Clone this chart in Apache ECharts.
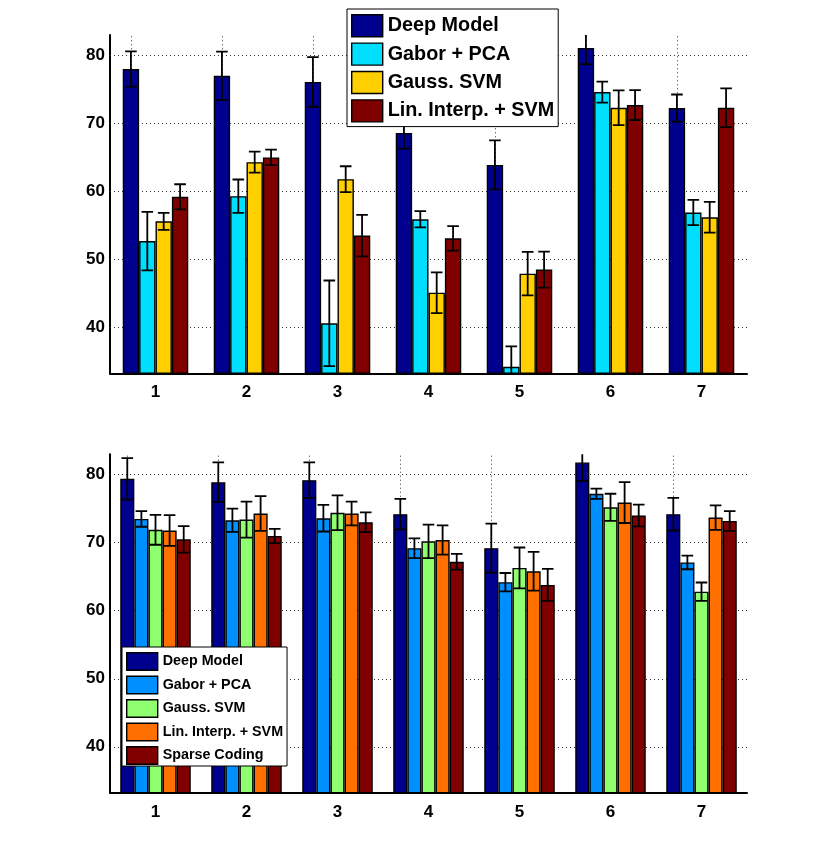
<!DOCTYPE html>
<html>
<head>
<meta charset="utf-8">
<script src="https://cdn.jsdelivr.net/npm/echarts@6/dist/echarts.min.js"></script>
<style>
html,body{margin:0;padding:0;background:#fff;}
#chart{width:828px;height:842px;}
</style>
</head>
<body>
<div id="chart"></div>
<script>
// ---- data ----
const categories = ['1', '2', '3', '4', '5', '6', '7'];
const yTicks = [40, 50, 60, 70, 80];

// top panel
const topNames = ['Deep Model', 'Gabor + PCA', 'Gauss. SVM', 'Lin. Interp. + SVM'];
const topDeep = [78.0, 77.0, 76.1, 68.6, 63.9, 81.1, 72.25];
const topDeepErr = [2.6, 3.55, 3.65, 2.3, 3.6, 2.4, 2.0];
const topGabor = [52.7, 59.3, 40.6, 55.9, 34.2, 74.6, 56.9];
const topGaborErr = [4.3, 2.45, 6.3, 1.2, 3.0, 1.55, 1.85];
const topGauss = [55.6, 64.3, 61.8, 45.1, 47.9, 72.3, 56.2];
const topGaussErr = [1.25, 1.55, 1.9, 3.0, 3.2, 2.55, 2.25];
const topLin = [59.2, 65.0, 53.5, 53.1, 48.5, 72.7, 72.3];
const topLinErr = [1.85, 1.15, 3.05, 1.8, 2.65, 2.2, 2.85];

// bottom panel
const botNames = ['Deep Model', 'Gabor + PCA', 'Gauss. SVM', 'Lin. Interp. + SVM', 'Sparse Coding'];
const botDeep = [79.4, 78.9, 79.2, 74.2, 69.2, 81.8, 74.2];
const botDeepErr = [3.05, 2.9, 2.6, 2.25, 3.6, 2.7, 2.4];
const botGabor = [73.5, 73.3, 73.6, 69.2, 64.2, 77.2, 67.1];
const botGaborErr = [1.15, 1.7, 1.95, 1.45, 1.35, 0.75, 1.0];
const botGauss = [71.9, 73.4, 74.4, 70.2, 66.3, 75.2, 62.8];
const botGaussErr = [2.2, 2.65, 2.55, 2.45, 3.0, 2.0, 1.35];
const botLin = [71.8, 74.3, 74.3, 70.4, 65.8, 75.9, 73.7];
const botLinErr = [2.25, 2.55, 1.75, 2.15, 2.85, 3.0, 1.8];
const botSparse = [70.5, 71.0, 73.0, 67.2, 63.8, 74.0, 73.2];
const botSparseErr = [1.95, 1.05, 1.45, 1.15, 2.35, 1.6, 1.45];

// ---- styles ----
const topColors = ['#00008F', '#00DFFF', '#FFCF00', '#800000'];
const botColors = ['#00008F', '#008FFF', '#8FFF70', '#FF7000', '#800000'];
const FONT = 'Liberation Sans, Arial, sans-serif';
const Y_MIN = 33.25, Y_MAX = 83.0;
const TOP_FRAC = 0.18, BOT_FRAC = 0.155;

const topVals = [topDeep, topGabor, topGauss, topLin];
const topErrs = [topDeepErr, topGaborErr, topGaussErr, topLinErr];
const botVals = [botDeep, botGabor, botGauss, botLin, botSparse];
const botErrs = [botDeepErr, botGaborErr, botGaussErr, botLinErr, botSparseErr];

const chart = echarts.init(document.getElementById('chart'), null, {renderer: 'canvas'});

function gridLines() {
  const data = [];
  yTicks.forEach(v => data.push({yAxis: v}));
  categories.forEach(c => data.push({xAxis: c}));
  return {
    silent: true, z: 1, symbol: ['none', 'none'], animation: false,
    label: {show: false},
    lineStyle: {type: [1, 3], color: '#333', width: 1},
    emphasis: {disabled: true},
    data: data
  };
}

function errRender(si, n, frac) {
  return function (params, api) {
    const c = api.value(0);
    const lo = api.coord([c, api.value(1)]);
    const hi = api.coord([c, api.value(2)]);
    const band = api.size([1, 0])[0];
    const bw = band * frac;
    const x = lo[0] + (si - (n - 1) / 2) * bw;
    const cap = 5.8;
    const style = {stroke: '#000', lineWidth: 1.8, fill: null};
    return {
      type: 'group',
      children: [
        {type: 'line', shape: {x1: x, y1: lo[1], x2: x, y2: hi[1]}, style: style},
        {type: 'line', shape: {x1: x - cap, y1: lo[1], x2: x + cap, y2: lo[1]}, style: style},
        {type: 'line', shape: {x1: x - cap, y1: hi[1], x2: x + cap, y2: hi[1]}, style: style}
      ]
    };
  };
}

const series = [];
function addPanel(names, vals, errs, colors, axisIdx, frac) {
  const n = names.length;
  names.forEach((name, i) => {
    const s = {
      type: 'bar', name: name,
      xAxisIndex: axisIdx, yAxisIndex: axisIdx,
      data: vals[i],
      barWidth: (frac * 100) + '%', barGap: '0%',
      itemStyle: {color: colors[i], borderColor: '#000', borderWidth: 1.4},
      emphasis: {disabled: true},
      animation: false, z: 2
    };
    if (i === 0) s.markLine = gridLines();
    series.push(s);
  });
  names.forEach((name, i) => {
    series.push({
      type: 'custom', name: name + ' err',
      xAxisIndex: axisIdx, yAxisIndex: axisIdx,
      clip: true, z: 3, animation: false, silent: true,
      renderItem: errRender(i, n, frac),
      data: vals[i].map((v, k) => [k, v - errs[i][k], v + errs[i][k]])
    });
  });
}
addPanel(topNames, topVals, topErrs, topColors, 0, TOP_FRAC);
addPanel(botNames, botVals, botErrs, botColors, 1, BOT_FRAC);

function xAxisDef(gi) {
  return {
    type: 'category', gridIndex: gi, data: categories,
    axisLine: {show: true, lineStyle: {color: '#000', width: 2}},
    axisTick: {show: false},
    splitLine: {show: false},
    axisLabel: {color: '#000', fontSize: 17, fontWeight: 'bold', fontFamily: FONT, margin: 11}
  };
}
function yAxisDef(gi) {
  return {
    type: 'value', gridIndex: gi, min: Y_MIN, max: Y_MAX,
    axisLine: {show: true, lineStyle: {color: '#000', width: 2}},
    axisTick: {show: false, customValues: yTicks},
    splitLine: {show: false},
    axisLabel: {color: '#000', fontSize: 17, fontWeight: 'bold', fontFamily: FONT, margin: 5, customValues: yTicks}
  };
}

function legendDef(names, colors, left, top, fs, ih, gap, pad) {
  return {
    orient: 'vertical', left: left, top: top,
    data: names.map((nm, i) => ({name: nm, icon: 'rect', itemStyle: {color: colors[i], borderColor: '#000', borderWidth: 1.4}})),
    itemWidth: 31, itemHeight: ih, itemGap: gap,
    padding: pad,
    backgroundColor: '#fff', borderColor: '#000', borderWidth: 1,
    selectedMode: false,
    textStyle: {color: '#000', fontSize: fs, fontWeight: 'bold', fontFamily: FONT, lineHeight: ih},
    z: 10
  };
}

chart.setOption({
  backgroundColor: '#fff',
  animation: false,
  grid: [
    {left: 110, top: 35, width: 637, height: 338.3, containLabel: false, outerBoundsMode: 'none'},
    {left: 110, top: 454.3, width: 637, height: 338.4, containLabel: false, outerBoundsMode: 'none'}
  ],
  xAxis: [xAxisDef(0), xAxisDef(1)],
  yAxis: [yAxisDef(0), yAxisDef(1)],
  legend: [
    legendDef(topNames, topColors, 347, 9, 19.8, 22, 5.0, [5, 4, 4, 4]),
    legendDef(botNames, botColors, 122, 647, 14.3, 17.6, 4.5, [5, 4, 1, 4])
  ],
  series: series
});
</script>
</body>
</html>
